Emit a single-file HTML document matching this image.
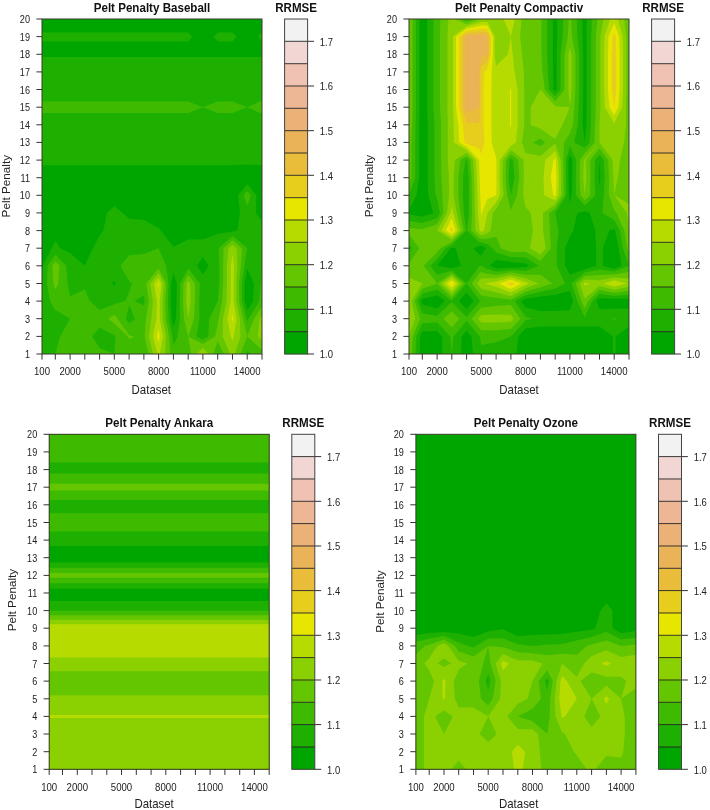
<!DOCTYPE html>
<html><head><meta charset="utf-8"><title>Pelt Penalty RRMSE</title>
<style>
html,body{margin:0;padding:0;background:#fff}
body{width:710px;height:810px;overflow:hidden}
svg{display:block}
text{font-family:"Liberation Sans",Arial,sans-serif;fill:#222}
.tk{font-size:10.4px}
.lb{font-size:12.4px}
.tt{font-size:12.4px;font-weight:bold;fill:#111}
.bx{fill:none;stroke:#3a3a2a;stroke-width:1}
.ax{fill:none;stroke:#333;stroke-width:1}
.kd{fill:none;stroke:#222;stroke-width:0.9}
.kb{fill:none;stroke:#444;stroke-width:1}
</style></head><body>
<svg width="710" height="810" viewBox="0 0 710 810">
<rect width="710" height="810" fill="#fff"/>
<g transform="translate(42,19)">
<rect x="0" y="0" width="220" height="335" fill="#00A600"/>
<path fill="#1DB000" fill-rule="evenodd" d="M0 335L13.3 335L28.1 335L42.8 335L57.6 335L72.3 335L87.1 335L101.9 335L116.6 335L131.4 335L146.2 335L160.9 335L175.7 335L190.5 335L205.2 335L220 335L220 317.4L220 299.7L220 282.1L220 264.5L220 246.8L220 229.2L220 211.6L220 202.8L214 193.9L214.4 176.3L205.2 165.3L196 176.3L198 193.9L195.4 211.6L190.5 212.5L175.7 215.1L160.9 220.4L146.2 220.4L131.4 228.1L118.8 211.6L116.6 209.1L101.9 201L87.1 199.8L80.8 193.9L72.3 186.9L65 193.9L61.3 211.6L57.6 216.6L50.9 229.2L42.8 246.8L42.8 246.8L42.8 246.8L28.1 234.1L18.2 229.2L13.3 221.4L9.5 229.2L0.9 246.8L0 255.7L0 264.5L0 282.1L0 299.7L0 317.4ZM72.3 266.7L69.4 264.5L72.3 262L73.8 264.5ZM131.4 308.6L129.6 299.7L128.7 282.1L129 264.5L131.4 253.5L134.8 264.5L134.6 282.1L133.9 299.7ZM160.9 255.7L155 246.8L160.9 238L166.8 246.8ZM205.2 291.4L202.7 282.1L202.5 264.5L205.2 249.8L211.9 264.5L211 282.1ZM0 141.1L0 146.3L13.3 146.3L28.1 146.3L42.8 146.3L57.6 146.3L72.3 146.3L87.1 146.3L101.9 146.3L116.6 146.3L131.4 146.3L146.2 146.3L160.9 146.3L175.7 146.3L190.5 146.3L205.2 145.5L220 146.3L220 141.1L220 123.4L220 105.8L220 88.2L220 70.5L220 52.9L220 37.9L205.2 37.9L190.5 37.9L175.7 37.9L160.9 37.9L146.2 37.9L131.4 37.9L116.6 37.9L101.9 37.9L87.1 37.9L72.3 37.9L57.6 37.9L42.8 37.9L28.1 37.9L13.3 37.9L0 37.9L0 52.9L0 70.5L0 88.2L0 105.8L0 123.4ZM0 17.6L0 22.4L13.3 22.4L28.1 22.4L42.8 22.4L57.6 22.4L72.3 22.4L87.1 22.4L101.9 22.4L116.6 22.4L131.4 22.4L146.2 22.4L150.2 17.6L146.2 13.6L131.4 13.6L116.6 13.6L101.9 13.6L87.1 13.6L72.3 13.6L57.6 13.6L42.8 13.6L28.1 13.6L13.3 13.6L0 13.6ZM171.7 17.6L175.7 22.4L190.5 22.4L194.5 17.6L190.5 13.6L175.7 13.6ZM216 17.6L220 22.4L220 17.6L220 13.6Z"/>
<path fill="#3EBB00" fill-rule="evenodd" d="M13.3 335L28.1 335L42.8 335L57.6 335L72.3 335L57.6 329.1L50.2 317.4L57.6 308.6L72.3 316.2L73.6 317.4L72.3 335L87.1 335L101.9 335L101.9 335L101.9 335L116.6 335L131.4 335L146.2 335L160.9 335L175.7 335L175.7 335L175.7 335L190.5 335L204.1 335L205.2 332.1L208.9 335L220 335L220 317.4L220 299.7L220 282.1L220 264.5L220 255.7L218.7 264.5L217.4 282.1L206.4 299.7L205.2 302.7L204.6 299.7L199.9 282.1L199.8 264.5L202.4 246.8L205.2 229.2L190.5 216.9L176.7 229.2L177.3 246.8L177.3 264.5L175.7 282.1L175.7 282.1L167.3 299.7L166.3 317.4L160.9 320.7L154.4 317.4L157.5 299.7L157.1 282.1L158 264.5L146.2 249.4L138.1 264.5L137.8 282.1L138 299.7L135.6 317.4L131.4 326.2L130.2 317.4L126.7 299.7L125.9 282.1L126.6 264.5L124 246.8L116.6 229.2L101.9 235.1L87.1 236.3L78.3 246.8L87.1 262L90.1 264.5L87.1 273.3L83.4 282.1L72.3 285.2L57.6 290.9L47.7 282.1L42.8 270.4L28.1 277.5L25.5 264.5L24.1 246.8L13.3 235.6L5.7 246.8L5 264.5L8 282.1L13.3 290.9L28.1 299.7L28.1 299.7L28.1 299.7L18.2 317.4ZM87.1 304.4L83.8 299.7L87.1 285.6L93 299.7ZM101.9 286.5L92 282.1L101.9 276.2L102.7 282.1ZM201.6 176.3L205.2 187.1L208.9 176.3L205.2 171.9ZM0 88.2L0 93.9L13.3 93.9L28.1 93.9L42.8 93.9L57.6 93.9L72.3 93.9L87.1 93.9L101.9 93.9L116.6 93.9L131.4 93.9L146.2 93.9L160.9 88.2L146.2 82.4L131.4 82.4L116.6 82.4L101.9 82.4L87.1 82.4L72.3 82.4L57.6 82.4L42.8 82.4L28.1 82.4L13.3 82.4L0 82.4ZM160.9 88.2L175.7 93.9L190.5 93.9L205.2 88.2L190.5 82.4L175.7 82.4ZM205.2 88.2L220 94.8L220 88.2L220 81.5Z"/>
<path fill="#3EBB00" d="M73.6 317.4L87.1 317.4L87.1 304.4L83.8 299.7L72.3 299.7L72.3 316.2ZM72.3 299.7L83.8 299.7L87.1 285.6L87.1 282.1L83.4 282.1L72.3 285.2ZM93 299.7L101.9 299.7L101.9 286.5L92 282.1L87.1 282.1L87.1 285.6ZM87.1 282.1L92 282.1L101.9 276.2L101.9 264.5L90.1 264.5L87.1 273.3Z"/>
<path fill="#63C600" fill-rule="evenodd" d="M85.9 317.4L87.1 319.9L92 317.4L87.1 316.2ZM106.5 335L116.6 335L128.2 335L127.1 317.4L123.7 299.7L123.2 282.1L124.3 264.5L116.6 249.6L104.2 264.5L106.8 282.1L104 299.7L102.7 317.4ZM149.1 335L160.9 335L171.4 335L160.9 324.9ZM173 317.4L175.7 322.4L181.9 335L190.5 335L198.4 335L205.2 317.4L201.2 299.7L197.2 282.1L197 264.5L198.9 246.8L200 229.2L190.5 221.3L181.6 229.2L181.1 246.8L181.1 264.5L180 282.1L176.6 299.7L175.7 305.6ZM205.2 317.4L220 331.1L220 317.4L220 299.7L220 287.4L212 299.7ZM66.4 299.7L72.3 304.4L75.6 299.7L72.3 295.6ZM142.1 299.7L146.2 317.4L151.9 299.7L152.9 282.1L153.1 264.5L146.2 255.7L141.5 264.5L141 282.1ZM11.3 264.5L13.3 270.6L16.2 264.5L17.4 246.8L13.3 242.6L10.4 246.8Z"/>
<path fill="#63C600" d="M149.1 335L160.9 335L160.9 324.9L146.2 317.4L146.2 317.4L146.2 317.4ZM160.9 335L171.4 335L175.7 322.4L175.7 317.4L173 317.4L160.9 324.9ZM85.9 317.4L87.1 317.4L87.1 316.2L75.6 299.7L72.3 299.7L72.3 304.4Z"/>
<path fill="#8BD000" fill-rule="evenodd" d="M111.1 335L116.6 335L123 335L124 317.4L120.8 299.7L120.5 282.1L121.9 264.5L116.6 254.3L108.1 264.5L110.9 282.1L109.3 299.7L106.8 317.4ZM154 335L160.9 335L167 335L160.9 329.1ZM188 335L190.5 335L192.7 335L198.5 317.4L197.9 299.7L194.4 282.1L194.3 264.5L195.4 246.8L194.7 229.2L190.5 225.7L186.5 229.2L185 246.8L185 264.5L184.4 282.1L180.9 299.7L180.6 317.4ZM215.8 317.4L220 321.3L220 317.4L220 299.7L220 296.2L217.7 299.7ZM144.2 282.1L146.2 299.7L148.7 282.1L148.1 264.5L146.2 262L144.8 264.5Z"/>
<path fill="#B6DB00" fill-rule="evenodd" d="M115.7 335L116.6 335L117.7 335L121 317.4L117.8 299.7L117.7 282.1L119.5 264.5L116.6 258.9L112 264.5L115 282.1L114.5 299.7L110.9 317.4ZM159 335L160.9 335L162.7 335L160.9 333.3ZM188.8 317.4L190.5 321.8L191.8 317.4L194.5 299.7L191.6 282.1L191.6 264.5L191.9 246.8L190.5 235.1L188.9 246.8L188.9 264.5L188.7 282.1L185.3 299.7Z"/>
<path fill="#E6E600" fill-rule="evenodd" d="M115 317.4L116.6 323.2L117.9 317.4L116.6 310.3ZM189.6 299.7L190.5 303.3L191.1 299.7L190.5 295.3ZM115.9 264.5L116.6 268.9L117.1 264.5L116.6 263.5Z"/>
<rect class="bx" x="0" y="0" width="220" height="335"/>
<path class="ax" d="M0 335v5.6M13.3 335v5.6M28.1 335v5.6M42.8 335v5.6M57.6 335v5.6M72.3 335v5.6M87.1 335v5.6M101.9 335v5.6M116.6 335v5.6M131.4 335v5.6M146.2 335v5.6M160.9 335v5.6M175.7 335v5.6M190.5 335v5.6M205.2 335v5.6M220 335v5.6M0 335h-5.6M0 317.4h-5.6M0 299.7h-5.6M0 282.1h-5.6M0 264.5h-5.6M0 246.8h-5.6M0 229.2h-5.6M0 211.6h-5.6M0 193.9h-5.6M0 176.3h-5.6M0 158.7h-5.6M0 141.1h-5.6M0 123.4h-5.6M0 105.8h-5.6M0 88.2h-5.6M0 70.5h-5.6M0 52.9h-5.6M0 35.3h-5.6M0 17.6h-5.6M0 0h-5.6"/>
<text class="tk" transform="translate(0,356.2) scale(0.925,1)" text-anchor="middle">100</text>
<text class="tk" transform="translate(28.1,356.2) scale(0.925,1)" text-anchor="middle">2000</text>
<text class="tk" transform="translate(72.3,356.2) scale(0.925,1)" text-anchor="middle">5000</text>
<text class="tk" transform="translate(116.6,356.2) scale(0.925,1)" text-anchor="middle">8000</text>
<text class="tk" transform="translate(160.9,356.2) scale(0.925,1)" text-anchor="middle">11000</text>
<text class="tk" transform="translate(205.2,356.2) scale(0.925,1)" text-anchor="middle">14000</text>
<text class="tk" transform="translate(-12,339) scale(0.875,1)" text-anchor="end">1</text>
<text class="tk" transform="translate(-12,321.4) scale(0.875,1)" text-anchor="end">2</text>
<text class="tk" transform="translate(-12,303.7) scale(0.875,1)" text-anchor="end">3</text>
<text class="tk" transform="translate(-12,286.1) scale(0.875,1)" text-anchor="end">4</text>
<text class="tk" transform="translate(-12,268.5) scale(0.875,1)" text-anchor="end">5</text>
<text class="tk" transform="translate(-12,250.8) scale(0.875,1)" text-anchor="end">6</text>
<text class="tk" transform="translate(-12,233.2) scale(0.875,1)" text-anchor="end">7</text>
<text class="tk" transform="translate(-12,215.6) scale(0.875,1)" text-anchor="end">8</text>
<text class="tk" transform="translate(-12,197.9) scale(0.875,1)" text-anchor="end">9</text>
<text class="tk" transform="translate(-12,180.3) scale(0.875,1)" text-anchor="end">10</text>
<text class="tk" transform="translate(-12,162.7) scale(0.875,1)" text-anchor="end">11</text>
<text class="tk" transform="translate(-12,145.1) scale(0.875,1)" text-anchor="end">12</text>
<text class="tk" transform="translate(-12,127.4) scale(0.875,1)" text-anchor="end">13</text>
<text class="tk" transform="translate(-12,109.8) scale(0.875,1)" text-anchor="end">14</text>
<text class="tk" transform="translate(-12,92.2) scale(0.875,1)" text-anchor="end">15</text>
<text class="tk" transform="translate(-12,74.5) scale(0.875,1)" text-anchor="end">16</text>
<text class="tk" transform="translate(-12,56.9) scale(0.875,1)" text-anchor="end">17</text>
<text class="tk" transform="translate(-12,39.3) scale(0.875,1)" text-anchor="end">18</text>
<text class="tk" transform="translate(-12,21.6) scale(0.875,1)" text-anchor="end">19</text>
<text class="tk" transform="translate(-12,4) scale(0.875,1)" text-anchor="end">20</text>
<text class="lb" transform="translate(109.3,374.8) scale(0.923,1)" text-anchor="middle">Dataset</text>
<text class="lb" transform="translate(-32,167.2) rotate(-90)" text-anchor="middle" style="font-size:11.7px">Pelt Penalty</text>
<text class="tt" transform="translate(110,-7) scale(0.935,1)" text-anchor="middle">Pelt Penalty Baseball</text>
<rect x="242.6" y="312.7" width="23.0" height="22.6" fill="#00A600"/>
<rect x="242.6" y="290.3" width="23.0" height="22.6" fill="#1DB000"/>
<rect x="242.6" y="268" width="23.0" height="22.6" fill="#3EBB00"/>
<rect x="242.6" y="245.7" width="23.0" height="22.6" fill="#63C600"/>
<rect x="242.6" y="223.3" width="23.0" height="22.6" fill="#8BD000"/>
<rect x="242.6" y="201" width="23.0" height="22.6" fill="#B6DB00"/>
<rect x="242.6" y="178.7" width="23.0" height="22.6" fill="#E6E600"/>
<rect x="242.6" y="156.3" width="23.0" height="22.6" fill="#E7CE1D"/>
<rect x="242.6" y="134" width="23.0" height="22.6" fill="#E9BD3A"/>
<rect x="242.6" y="111.7" width="23.0" height="22.6" fill="#EAB358"/>
<rect x="242.6" y="89.3" width="23.0" height="22.6" fill="#ECB176"/>
<rect x="242.6" y="67" width="23.0" height="22.6" fill="#EDB694"/>
<rect x="242.6" y="44.7" width="23.0" height="22.6" fill="#EFC2B3"/>
<rect x="242.6" y="22.3" width="23.0" height="22.6" fill="#F1D6D3"/>
<rect x="242.6" y="0" width="23.0" height="22.6" fill="#F2F2F2"/>
<path class="kd" d="M242.6 312.7h23.0M242.6 290.3h23.0M242.6 268h23.0M242.6 245.7h23.0M242.6 223.3h23.0M242.6 201h23.0M242.6 178.7h23.0M242.6 156.3h23.0M242.6 134h23.0M242.6 111.7h23.0M242.6 89.3h23.0M242.6 67h23.0M242.6 44.7h23.0M242.6 22.3h23.0"/>
<rect class="kb" x="242.6" y="0" width="23.0" height="335"/>
<text class="tk" transform="translate(277.8,339.3) scale(0.91,1)" text-anchor="start">1.0</text>
<text class="tk" transform="translate(277.8,294.6) scale(0.91,1)" text-anchor="start">1.1</text>
<text class="tk" transform="translate(277.8,250) scale(0.91,1)" text-anchor="start">1.2</text>
<text class="tk" transform="translate(277.8,205.3) scale(0.91,1)" text-anchor="start">1.3</text>
<text class="tk" transform="translate(277.8,160.6) scale(0.91,1)" text-anchor="start">1.4</text>
<text class="tk" transform="translate(277.8,116) scale(0.91,1)" text-anchor="start">1.5</text>
<text class="tk" transform="translate(277.8,71.3) scale(0.91,1)" text-anchor="start">1.6</text>
<text class="tk" transform="translate(277.8,26.6) scale(0.91,1)" text-anchor="start">1.7</text>
<path class="ax" d="M265.6 335h6.4M265.6 290.3h6.4M265.6 245.7h6.4M265.6 201h6.4M265.6 156.3h6.4M265.6 111.7h6.4M265.6 67h6.4M265.6 22.3h6.4"/>
<text class="tt" transform="translate(254.1,-7) scale(0.935,1)" text-anchor="middle">RRMSE</text>
</g>
<g transform="translate(409,19)">
<rect x="0" y="0" width="220" height="335" fill="#00A600"/>
<path fill="#1DB000" fill-rule="evenodd" d="M0 335L10.8 335L11.1 317.4L13.3 312.6L28.1 312.1L33 317.4L33.6 335L42.8 335L52 335L52.7 317.4L57.6 311.5L62.5 317.4L63.9 335L70.1 335L72.3 335L78.3 335L87.1 335L101.9 335L107.4 335L109.3 317.4L116.6 309.4L131.4 307.6L146.2 307.6L160.9 307.6L175.7 307.6L190.5 307.6L203.9 317.4L203.9 335L205.2 335L206.6 335L206.6 317.4L220 307.6L220 299.7L220 289.7L205.2 289.7L190.5 290.3L187.5 282.1L190.5 279.2L205.2 279.7L220 279.7L220 264.5L220 246.8L220 229.2L220 211.6L220 193.9L220 176.3L220 158.7L220 141.1L220 123.4L220 105.8L220 88.2L220 70.5L220 52.9L220 35.3L220 17.6L220 0L205.2 0L190.5 0L177.8 0L177.6 17.6L177.6 35.3L177.6 52.9L177.6 70.5L177.6 88.2L177.4 105.8L175.7 123.4L175.7 123.4L175.7 123.4L173.7 105.8L174 88.2L174.2 70.5L174.2 52.9L174.2 35.3L173.6 17.6L173.4 0L160.9 0L148.4 0L148.3 17.6L147.7 35.3L147.7 52.9L147.7 70.5L146.2 72.5L144.4 70.5L144.1 52.9L143.9 35.3L143.9 17.6L143.9 0L131.4 0L116.6 0L101.9 0L87.1 0L78.3 0L72.3 0L70.1 0L57.6 0L42.8 0L28.1 0L18.2 0L18.2 17.6L18.2 35.3L18.2 52.9L18.2 70.5L18.2 88.2L18.7 105.8L18.7 123.4L18.7 141.1L18.7 158.7L19.2 176.3L24.4 193.9L13.3 197.7L0 195.3L0 211.6L0 229.2L0 246.8L0 264.5L0 282.1L0 299.7L0 317.4ZM13.3 285.6L12 282.1L13.3 280L28.1 276.2L35.8 282.1L28.1 289.5ZM57.6 290.1L49.8 282.1L57.6 273.3L64.6 282.1ZM70.1 235.4L64.4 229.2L70.1 227.2L72.3 226.8L76.8 229.2L72.3 236.5ZM87.1 249.5L80.6 246.8L87.1 241L101.9 242.9L116.6 244.5L120.3 246.8L116.6 248.3L101.9 248.7ZM116.6 288.6L112.2 282.1L116.6 279.7L131.4 277.5L146.2 275.8L160.9 272L164.2 282.1L160.9 290.9L146.2 291.9L131.4 291.9ZM190.5 167.5L189.6 158.7L190.5 141.1L190.5 141.1L190.5 141.1L191.3 158.7ZM205.2 249.7L193.9 246.8L193.9 229.2L200.3 211.6L205.2 209.8L206.2 211.6L209.6 229.2L212.6 246.8ZM28.1 246.8L28.1 246.8L28.1 246.8L41.8 229.2L42.8 228.7L46.5 229.2L52 246.8L42.8 249.3ZM160.9 255.7L156 246.8L156 229.2L160.9 217.5L164.3 211.6L168.3 193.9L175.7 191.9L180.6 193.9L186.3 211.6L187.1 229.2L187.1 246.8L175.7 250.2ZM160.9 185.1L159.9 176.3L159.5 158.7L159.4 141.1L160.9 135.8L163.3 141.1L163.2 158.7L162.7 176.3ZM0 176.3L0 191L7.4 176.3L10.2 158.7L10.2 141.1L10.2 123.4L10.3 105.8L10.5 88.2L10.5 70.5L10.5 52.9L10.5 35.3L10.5 17.6L10.5 0L0 0L0 17.6L0 35.3L0 52.9L0 70.5L0 88.2L0 105.8L0 123.4L0 141.1L0 158.7Z"/>
<path fill="#1DB000" d="M160.9 193.9L168.3 193.9L175.7 191.9L175.7 176.3L162.7 176.3L160.9 185.1Z"/>
<path fill="#3EBB00" fill-rule="evenodd" d="M0 335L6.6 335L7.4 317.4L13.3 304.5L28.1 303.3L41.2 317.4L42.8 335L44.5 317.4L57.6 301.7L70.1 316.8L70.7 317.4L72.3 326.2L78.3 324.7L87.1 323.2L101.9 317.4L101.9 317.4L116.6 301.3L124 299.7L116.6 297.9L105.7 282.1L116.6 276.2L131.4 272.8L146.2 269.5L156 264.5L147.8 246.8L147.8 229.2L149.5 211.6L146.2 193.9L146.2 193.9L146.2 193.9L157.2 176.3L157.1 158.7L156.9 141.1L160.9 126.9L165.2 123.4L168.8 105.8L169.6 88.2L170.3 70.5L170.3 52.9L170.3 35.3L168.3 17.6L167.8 0L160.9 0L154.1 0L153.6 17.6L151.6 35.3L151.6 52.9L151.6 70.5L146.2 77.4L140.1 70.5L138.8 52.9L138.2 35.3L138.2 17.6L138.2 0L131.4 0L116.6 0L101.9 0L87.1 0L78.3 0L72.3 0L70.1 0L60 0L57.6 0.9L55.5 0L42.8 0L28.1 0L24.4 0L24.4 17.6L24.4 35.3L24.4 52.9L24.4 70.5L24.4 88.2L25.4 105.8L25.4 123.4L25.4 141.1L25.4 158.7L26.6 176.3L28.1 179.8L30.9 193.9L28.1 199L13.3 204L0 202.1L0 211.6L0 225.3L3 229.2L0 233.6L0 246.8L0 264.5L0 282.1L0 299.7L0 317.4ZM13.3 294.4L8.9 282.1L13.3 274.8L28.1 270.4L42.8 281.8L57.6 264.5L42.8 251.7L28.1 255.7L21.3 246.8L28.1 240.1L36.5 229.2L42.8 226L57.3 211.6L54.8 193.9L53.9 176.3L53.9 158.7L56.5 141.1L57.6 140.4L58.2 141.1L59.8 158.7L59.9 176.3L60 193.9L58 211.6L70.1 223.2L72.3 223.3L78.3 225L83.3 229.2L87.1 233.6L101.9 238L116.6 238.6L129.6 246.8L116.6 252L101.9 251.1L87.1 252.7L78.3 250.1L72.3 246.8L70.1 247.3L57.6 264.5L70.1 280.6L71.6 282.1L70.1 283.7L57.6 298.1L42.8 283L28.1 296.8ZM101.9 176.3L101.9 176.3L99.5 158.7L100.6 141.1L101.9 139.4L104 141.1L105.6 158.7L101.9 176.3ZM201.8 299.7L205.2 300.8L208.6 299.7L205.2 299.2ZM168.3 282.1L175.7 298L183.3 282.1L190.5 275.1L205.2 276.7L220 275.7L220 264.5L220 246.8L205.2 252.6L190.5 250.6L175.7 253.6L162.6 264.5ZM213.9 229.2L220 246.8L220 229.2L220 211.6L220 193.9L220 176.3L220 158.7L220 141.1L220 123.4L220 105.8L220 88.2L220 70.5L220 52.9L220 35.3L220 17.6L220 0L205.2 0L190.5 0L183.1 0L182.2 17.6L182.2 35.3L182.2 52.9L182.2 70.5L182.2 88.2L181.8 105.8L180.6 123.4L175.7 128.9L167.2 141.1L166.8 158.7L167 176.3L175.7 186.7L186.3 176.3L185.5 158.7L185.9 141.1L190.5 135.2L194.8 141.1L195.7 158.7L194.7 176.3L193.4 193.9L205.2 201L210.8 211.6ZM0 158.7L0 176.3L6.3 158.7L6.3 141.1L6.3 123.4L6.6 105.8L7 88.2L7 70.5L7 52.9L7 35.3L7 17.6L7 0L0 0L0 17.6L0 35.3L0 52.9L0 70.5L0 88.2L0 105.8L0 123.4L0 141.1Z"/>
<path fill="#3EBB00" d="M167.2 141.1L175.7 141.1L175.7 128.9L165.2 123.4L160.9 123.4L160.9 126.9ZM175.7 141.1L185.9 141.1L190.5 135.2L190.5 123.4L180.6 123.4L175.7 128.9Z"/>
<path fill="#63C600" fill-rule="evenodd" d="M0 335L2.5 335L3.7 317.4L11.2 299.7L5.7 282.1L13.3 269.7L28.1 264.5L14.6 246.8L28.1 233.3L31.2 229.2L42.8 223.3L54.6 211.6L51.3 193.9L49.3 176.3L49.3 158.7L51.3 141.1L57.6 137.3L61.1 141.1L62.5 158.7L62.7 176.3L63 193.9L62.2 211.6L70.1 219.1L72.3 219.9L78.3 219.7L87.1 217.5L92 229.2L101.9 233.1L116.6 232.7L131.4 241.8L142 229.2L140.8 211.6L140 193.9L146.2 189.7L154.6 176.3L154.7 158.7L154.3 141.1L155 123.4L160.9 114.6L163.9 105.8L165.3 88.2L166.4 70.5L166.4 52.9L166.4 35.3L163 17.6L162.1 0L160.9 0L159.8 0L158.8 17.6L155.5 35.3L155.5 52.9L155.5 70.5L146.2 82.3L135.8 70.5L133.5 52.9L132.5 35.3L132.5 17.6L132.5 0L131.4 0L116.6 0L101.9 0L87.1 0L78.3 0L72.3 0L70.1 0L66.2 0L57.6 3.1L50.2 0L42.8 0L31.3 0L31 17.6L31 35.3L31 52.9L31 70.5L31 88.2L32.1 105.8L32.1 123.4L32.1 141.1L32.5 158.7L33.4 176.3L34.4 193.9L28.1 205.3L13.3 210.3L0 208.9L0 211.6L0 215.5L10.3 229.2L0 244.6L0 246.8L0 264.5L0 282.1L0 299.7L0 317.4ZM101.9 191L98.2 176.3L96.5 158.7L97.3 141.1L101.9 135.2L109.3 141.1L110.2 158.7L108 176.3ZM131.4 127.3L124 123.4L131.4 119.5L136 123.4ZM34.4 299.7L42.8 308.6L50.2 299.7L42.8 292.3ZM62.7 299.7L70.1 308.9L72.3 311.2L78.3 311.2L87.1 311.2L101.9 310L111.3 299.7L101.9 286L87.1 287.1L78.3 288.1L72.3 288.7L70.1 291.1ZM172.4 282.1L175.7 289.2L179.1 282.1L190.5 271L205.2 273.7L220 271.7L220 264.5L220 253.1L205.2 255.5L190.5 255.9L175.7 257L166.7 264.5ZM28.1 264.5L42.8 278.4L54.7 264.5L42.8 254.2ZM62.9 264.5L70.1 273.9L72.3 276.2L78.3 277.4L87.1 278.8L101.9 280.7L116.6 272.8L131.4 268.2L143.2 264.5L131.4 255.7L116.6 255.7L101.9 253.5L87.1 256L78.3 254.7L72.3 253.1L70.1 254.5ZM218.3 229.2L220 234.2L220 229.2L220 211.6L220 193.9L220 176.3L220 158.7L220 141.1L220 123.4L220 105.8L220 88.2L220 70.5L220 52.9L220 35.3L220 17.6L220 0L205.2 0L190.5 0L188.4 0L186.8 17.6L186.8 35.3L186.8 52.9L186.8 70.5L186.8 88.2L186.1 105.8L185.5 123.4L190.5 129.3L199.2 141.1L200 158.7L200 176.3L205.2 191L207.3 193.9L215.4 211.6ZM171.4 176.3L175.7 181.5L181 176.3L181.4 158.7L181.2 141.1L175.7 134.4L171 141.1L170.5 158.7ZM0 158.7L0 165.3L2.3 158.7L2.3 141.1L2.3 123.4L3 105.8L3.5 88.2L3.5 70.5L3.5 52.9L3.5 35.3L3.5 17.6L3.5 0L0 0L0 17.6L0 35.3L0 52.9L0 70.5L0 88.2L0 105.8L0 123.4L0 141.1Z"/>
<path fill="#63C600" d="M175.7 141.1L181.2 141.1L190.5 129.3L190.5 123.4L185.5 123.4L175.7 134.4Z"/>
<path fill="#8BD000" fill-rule="evenodd" d="M0 299.7L0 317.4L6.1 299.7L2.5 282.1L13.3 264.5L0 258.6L0 264.5L0 282.1ZM69.1 299.7L70.1 301L72.3 303.6L78.3 303.6L87.1 303.6L101.9 302.7L104.6 299.7L101.9 295.8L87.1 295.5L78.3 295.9L72.3 296.1L70.1 298.6ZM31.6 264.5L42.8 275.1L51.9 264.5L42.8 256.6ZM68.1 264.5L70.1 267.1L72.3 269.7L78.3 271.3L87.1 273.3L101.9 277.2L116.6 269.3L129.6 264.5L116.6 259.3L101.9 255.9L87.1 259.2L78.3 259.3L72.3 259.4L70.1 261.7ZM170.8 264.5L175.7 279.6L190.5 266.9L205.2 270.7L220 267.7L220 264.5L220 259.4L205.2 258.4L190.5 261.3L175.7 260.4ZM120.9 229.2L131.4 235.5L136.7 229.2L134.1 211.6L133.9 193.9L146.2 185.6L152 176.3L152.4 158.7L151.8 141.1L146.2 124.2L131.4 137.1L116.6 134L114.5 141.1L114.8 158.7L114.2 176.3L116.6 188.1L121.6 193.9L124 211.6ZM28.1 211.6L42.8 220.7L51.9 211.6L47.7 193.9L44.7 176.3L44.7 158.7L46 141.1L57.6 134.1L64.1 141.1L65.2 158.7L65.5 176.3L66 193.9L66.4 211.6L70.1 215.1L72.3 216.4L78.3 214.4L81.7 211.6L83.8 193.9L87.1 189.9L94.6 176.3L93.4 158.7L94 141.1L101.9 131L113 123.4L115.3 105.8L115.3 88.2L115.3 70.5L114.8 52.9L113 35.3L111.1 17.6L112.6 0L101.9 0L87.1 0L78.3 0L72.3 0L72.3 0L70.1 1.1L57.6 5.4L44.9 0L42.8 0L39.5 0L38.4 17.6L38.4 35.3L38.4 52.9L38.4 70.5L38.4 88.2L38.8 105.8L38.8 123.4L38.8 141.1L39.9 158.7L40.1 176.3L37.9 193.9ZM217.9 193.9L220 211.6L220 193.9L220 185.1ZM174.2 158.7L175.7 176.3L177.3 158.7L176.6 141.1L175.7 140L174.9 141.1ZM204.4 158.7L205.2 176.3L208.9 158.7L211.1 141.1L215.1 123.4L217 105.8L216.9 88.2L217.3 70.5L217.3 52.9L217.3 35.3L217.2 17.6L215.1 0L205.2 0L194.5 0L191.3 17.6L191.2 35.3L191.2 52.9L191.2 70.5L191.4 88.2L190.5 105.8L190.5 123.4L203.5 141.1ZM121.6 105.8L131.4 109.7L146.2 119.9L153.6 105.8L160.9 88.2L146.2 87.2L131.4 70.5L121.6 88.2ZM159.4 70.5L160.9 88.2L162.5 70.5L162.5 52.9L162.5 35.3L160.9 28.2L159.4 35.3L159.4 52.9Z"/>
<path fill="#8BD000" d="M217.9 193.9L220 193.9L220 185.1L205.2 176.3L205.2 176.3L205.2 176.3ZM114.5 141.1L116.6 141.1L116.6 134L113 123.4L101.9 123.4L101.9 131ZM175.7 141.1L176.6 141.1L190.5 123.4L190.5 123.4L190.5 123.4L175.7 140Z"/>
<path fill="#B6DB00" fill-rule="evenodd" d="M0 299.7L0 302.7L1 299.7L0 290.9ZM35.1 264.5L42.8 271.8L49.1 264.5L42.8 259.1ZM76 264.5L78.3 265.2L87.1 267.8L101.9 273.6L116.6 265.9L120.3 264.5L116.6 263L101.9 258.3L87.1 262.5L78.3 263.9ZM174.9 264.5L175.7 267L180.6 264.5L175.7 263.8ZM194.4 264.5L205.2 267.8L217.7 264.5L205.2 261.3ZM32.4 211.6L42.8 218L49.3 211.6L44.2 193.9L42.8 186.9L41.4 193.9ZM70.7 211.6L72.3 213L75 211.6L78.3 194.7L78.4 193.9L87.1 183.3L90.9 176.3L90.4 158.7L90.7 141.1L101.9 126.8L106.8 123.4L108.7 105.8L108.7 88.2L108.7 70.5L105.6 52.9L103.7 35.3L101.9 17.6L98.9 35.3L87.1 47L85.6 35.3L85.7 17.6L78.3 3L72.3 3.1L70.1 4L57.6 7.6L44 17.6L44 35.3L44 52.9L44 70.5L44 88.2L44.7 105.8L44.9 123.4L57.6 131L67 141.1L68 158.7L68.4 176.3L69 193.9L70.1 207.1ZM135.1 176.3L146.2 181.4L149.3 176.3L150 158.7L149.2 141.1L146.2 131.9L136.3 141.1L134.4 158.7ZM195.9 88.2L205.2 104.2L213.1 88.2L214 70.5L214 52.9L214 35.3L213.7 17.6L208.9 0L205.2 0L201.2 0L195.4 17.6L195.1 35.3L195.1 52.9L195.1 70.5ZM94.5 0L101.9 17.6L105.9 0L101.9 0Z"/>
<path fill="#E6E600" fill-rule="evenodd" d="M38.6 264.5L42.8 268.5L46.2 264.5L42.8 261.5ZM90.1 264.5L101.9 270.1L112.6 264.5L101.9 260.7ZM204.3 264.5L205.2 264.8L206.4 264.5L205.2 264.2ZM36.7 211.6L42.8 215.3L46.6 211.6L42.8 199.2ZM72 193.9L72.3 196.5L72.9 193.9L78.3 180L87.1 176.6L87.3 176.3L87.4 158.7L87.4 141.1L87.1 138.5L82.7 123.4L82.5 105.8L82.5 88.2L82.5 70.5L82.7 52.9L83.8 35.3L83.9 17.6L78.3 6.6L72.3 6.3L70.1 7L57.6 9.8L47 17.6L47 35.3L47 52.9L47 70.5L47 88.2L49.3 105.8L50.2 123.4L57.6 127.8L70 141.1L70.1 144.4L70.7 158.7L71.2 176.3ZM144.3 176.3L146.2 177.2L146.7 176.3L147.6 158.7L146.7 141.1L146.2 139.5L144.5 141.1L141.7 158.7ZM101 105.8L101.9 108.7L102.1 105.8L102.1 88.2L102.1 70.5L101.9 69.4L101 70.5L101 88.2ZM200.5 88.2L205.2 96.3L209.2 88.2L210.6 70.5L210.6 52.9L210.6 35.3L210.2 17.6L205.2 3.9L199.5 17.6L199 35.3L199 52.9L199 70.5Z"/>
<path fill="#E7CE1D" fill-rule="evenodd" d="M42.1 264.5L42.8 265.1L43.4 264.5L42.8 264ZM97.4 264.5L101.9 266.6L105.9 264.5L101.9 263ZM41.1 211.6L42.8 212.6L43.9 211.6L42.8 208.1ZM55.5 123.4L57.6 124.7L70.1 129.5L72.3 135.2L75.3 123.4L74.7 105.8L74.7 88.2L74.7 70.5L75.3 52.9L78.3 50L81.9 35.3L82.1 17.6L78.3 10.1L72.3 9.4L70.1 9.9L57.6 12.1L50.1 17.6L50.1 35.3L50.1 52.9L50.1 70.5L50.1 88.2L53.9 105.8ZM205.1 88.2L205.2 88.5L205.4 88.2L207.2 70.5L207.2 52.9L207.2 35.3L206.6 17.6L205.2 13.7L203.6 17.6L202.9 35.3L202.9 52.9L202.9 70.5Z"/>
<path fill="#E9BD3A" fill-rule="evenodd" d="M53.1 88.2L57.6 103.7L70.1 104.2L71.4 88.2L71.5 70.5L71.5 52.9L72.3 47.3L78.3 42.6L80.1 35.3L80.2 17.6L78.3 13.7L72.3 12.6L70.1 12.9L57.6 14.3L53.1 17.6L53.1 35.3L53.1 52.9L53.1 70.5Z"/>
<path fill="#EAB358" fill-rule="evenodd" d="M56.1 88.2L57.6 93.3L70.1 88.2L70.1 88.2L70.2 70.5L70.2 52.9L72.3 38L78.3 35.3L78.3 35.3L78.4 17.6L78.3 17.3L72.3 15.7L70.1 15.9L57.6 16.5L56.1 17.6L56.1 35.3L56.1 52.9L56.1 70.5Z"/>
<rect class="bx" x="0" y="0" width="220" height="335"/>
<path class="ax" d="M0 335v5.6M13.3 335v5.6M28.1 335v5.6M42.8 335v5.6M57.6 335v5.6M72.3 335v5.6M87.1 335v5.6M101.9 335v5.6M116.6 335v5.6M131.4 335v5.6M146.2 335v5.6M160.9 335v5.6M175.7 335v5.6M190.5 335v5.6M205.2 335v5.6M220 335v5.6M0 335h-5.6M0 317.4h-5.6M0 299.7h-5.6M0 282.1h-5.6M0 264.5h-5.6M0 246.8h-5.6M0 229.2h-5.6M0 211.6h-5.6M0 193.9h-5.6M0 176.3h-5.6M0 158.7h-5.6M0 141.1h-5.6M0 123.4h-5.6M0 105.8h-5.6M0 88.2h-5.6M0 70.5h-5.6M0 52.9h-5.6M0 35.3h-5.6M0 17.6h-5.6M0 0h-5.6"/>
<text class="tk" transform="translate(0,356.2) scale(0.925,1)" text-anchor="middle">100</text>
<text class="tk" transform="translate(28.1,356.2) scale(0.925,1)" text-anchor="middle">2000</text>
<text class="tk" transform="translate(72.3,356.2) scale(0.925,1)" text-anchor="middle">5000</text>
<text class="tk" transform="translate(116.6,356.2) scale(0.925,1)" text-anchor="middle">8000</text>
<text class="tk" transform="translate(160.9,356.2) scale(0.925,1)" text-anchor="middle">11000</text>
<text class="tk" transform="translate(205.2,356.2) scale(0.925,1)" text-anchor="middle">14000</text>
<text class="tk" transform="translate(-12,339) scale(0.875,1)" text-anchor="end">1</text>
<text class="tk" transform="translate(-12,321.4) scale(0.875,1)" text-anchor="end">2</text>
<text class="tk" transform="translate(-12,303.7) scale(0.875,1)" text-anchor="end">3</text>
<text class="tk" transform="translate(-12,286.1) scale(0.875,1)" text-anchor="end">4</text>
<text class="tk" transform="translate(-12,268.5) scale(0.875,1)" text-anchor="end">5</text>
<text class="tk" transform="translate(-12,250.8) scale(0.875,1)" text-anchor="end">6</text>
<text class="tk" transform="translate(-12,233.2) scale(0.875,1)" text-anchor="end">7</text>
<text class="tk" transform="translate(-12,215.6) scale(0.875,1)" text-anchor="end">8</text>
<text class="tk" transform="translate(-12,197.9) scale(0.875,1)" text-anchor="end">9</text>
<text class="tk" transform="translate(-12,180.3) scale(0.875,1)" text-anchor="end">10</text>
<text class="tk" transform="translate(-12,162.7) scale(0.875,1)" text-anchor="end">11</text>
<text class="tk" transform="translate(-12,145.1) scale(0.875,1)" text-anchor="end">12</text>
<text class="tk" transform="translate(-12,127.4) scale(0.875,1)" text-anchor="end">13</text>
<text class="tk" transform="translate(-12,109.8) scale(0.875,1)" text-anchor="end">14</text>
<text class="tk" transform="translate(-12,92.2) scale(0.875,1)" text-anchor="end">15</text>
<text class="tk" transform="translate(-12,74.5) scale(0.875,1)" text-anchor="end">16</text>
<text class="tk" transform="translate(-12,56.9) scale(0.875,1)" text-anchor="end">17</text>
<text class="tk" transform="translate(-12,39.3) scale(0.875,1)" text-anchor="end">18</text>
<text class="tk" transform="translate(-12,21.6) scale(0.875,1)" text-anchor="end">19</text>
<text class="tk" transform="translate(-12,4) scale(0.875,1)" text-anchor="end">20</text>
<text class="lb" transform="translate(110,374.8) scale(0.923,1)" text-anchor="middle">Dataset</text>
<text class="lb" transform="translate(-36.3,167) rotate(-90)" text-anchor="middle" style="font-size:11.7px">Pelt Penalty</text>
<text class="tt" transform="translate(110,-7) scale(0.935,1)" text-anchor="middle">Pelt Penalty Compactiv</text>
<rect x="242.6" y="312.7" width="23.0" height="22.6" fill="#00A600"/>
<rect x="242.6" y="290.3" width="23.0" height="22.6" fill="#1DB000"/>
<rect x="242.6" y="268" width="23.0" height="22.6" fill="#3EBB00"/>
<rect x="242.6" y="245.7" width="23.0" height="22.6" fill="#63C600"/>
<rect x="242.6" y="223.3" width="23.0" height="22.6" fill="#8BD000"/>
<rect x="242.6" y="201" width="23.0" height="22.6" fill="#B6DB00"/>
<rect x="242.6" y="178.7" width="23.0" height="22.6" fill="#E6E600"/>
<rect x="242.6" y="156.3" width="23.0" height="22.6" fill="#E7CE1D"/>
<rect x="242.6" y="134" width="23.0" height="22.6" fill="#E9BD3A"/>
<rect x="242.6" y="111.7" width="23.0" height="22.6" fill="#EAB358"/>
<rect x="242.6" y="89.3" width="23.0" height="22.6" fill="#ECB176"/>
<rect x="242.6" y="67" width="23.0" height="22.6" fill="#EDB694"/>
<rect x="242.6" y="44.7" width="23.0" height="22.6" fill="#EFC2B3"/>
<rect x="242.6" y="22.3" width="23.0" height="22.6" fill="#F1D6D3"/>
<rect x="242.6" y="0" width="23.0" height="22.6" fill="#F2F2F2"/>
<path class="kd" d="M242.6 312.7h23.0M242.6 290.3h23.0M242.6 268h23.0M242.6 245.7h23.0M242.6 223.3h23.0M242.6 201h23.0M242.6 178.7h23.0M242.6 156.3h23.0M242.6 134h23.0M242.6 111.7h23.0M242.6 89.3h23.0M242.6 67h23.0M242.6 44.7h23.0M242.6 22.3h23.0"/>
<rect class="kb" x="242.6" y="0" width="23.0" height="335"/>
<text class="tk" transform="translate(277.8,339.3) scale(0.91,1)" text-anchor="start">1.0</text>
<text class="tk" transform="translate(277.8,294.6) scale(0.91,1)" text-anchor="start">1.1</text>
<text class="tk" transform="translate(277.8,250) scale(0.91,1)" text-anchor="start">1.2</text>
<text class="tk" transform="translate(277.8,205.3) scale(0.91,1)" text-anchor="start">1.3</text>
<text class="tk" transform="translate(277.8,160.6) scale(0.91,1)" text-anchor="start">1.4</text>
<text class="tk" transform="translate(277.8,116) scale(0.91,1)" text-anchor="start">1.5</text>
<text class="tk" transform="translate(277.8,71.3) scale(0.91,1)" text-anchor="start">1.6</text>
<text class="tk" transform="translate(277.8,26.6) scale(0.91,1)" text-anchor="start">1.7</text>
<path class="ax" d="M265.6 335h6.4M265.6 290.3h6.4M265.6 245.7h6.4M265.6 201h6.4M265.6 156.3h6.4M265.6 111.7h6.4M265.6 67h6.4M265.6 22.3h6.4"/>
<text class="tt" transform="translate(254.1,-7) scale(0.935,1)" text-anchor="middle">RRMSE</text>
</g>
<g transform="translate(49.2,434.3)">
<rect x="0" y="0" width="220" height="335" fill="#00A600"/>
<path fill="#1DB000" fill-rule="evenodd" d="M0 335L13.3 335L28.1 335L42.8 335L57.6 335L72.3 335L87.1 335L101.9 335L116.6 335L131.4 335L146.2 335L160.9 335L175.7 335L190.5 335L205.2 335L220 335L220 317.4L220 299.7L220 282.1L220 264.5L220 246.8L220 229.2L220 211.6L220 193.9L220 176.3L220 166.6L205.2 166.6L190.5 166.6L175.7 166.6L160.9 166.6L146.2 166.6L131.4 166.6L116.6 166.6L101.9 166.6L87.1 166.6L72.3 166.6L57.6 166.6L42.8 166.6L28.1 166.6L13.3 166.6L0 166.6L0 176.3L0 193.9L0 211.6L0 229.2L0 246.8L0 264.5L0 282.1L0 299.7L0 317.4ZM0 141.1L0 154.4L13.3 154.4L28.1 154.4L42.8 154.4L57.6 154.4L72.3 154.4L87.1 154.4L101.9 154.4L116.6 154.4L131.4 154.4L146.2 154.4L160.9 154.4L175.7 154.4L190.5 154.4L205.2 154.4L220 154.4L220 141.1L220 128.3L205.2 128.3L190.5 128.3L175.7 128.3L160.9 128.3L146.2 128.3L131.4 128.3L116.6 128.3L101.9 128.3L87.1 128.3L72.3 128.3L57.6 128.3L42.8 128.3L28.1 128.3L13.3 128.3L0 128.3ZM0 105.8L0 111.7L13.3 111.7L28.1 111.7L42.8 111.7L57.6 111.7L72.3 111.7L87.1 111.7L101.9 111.7L116.6 111.7L131.4 111.7L146.2 111.7L160.9 111.7L175.7 111.7L190.5 111.7L205.2 111.7L220 111.7L220 105.8L220 88.2L220 70.5L220 52.9L220 35.3L220 17.6L220 0L205.2 0L190.5 0L175.7 0L160.9 0L146.2 0L131.4 0L116.6 0L101.9 0L87.1 0L72.3 0L57.6 0L42.8 0L28.1 0L13.3 0L0 0L0 17.6L0 35.3L0 52.9L0 70.5L0 88.2Z"/>
<path fill="#3EBB00" fill-rule="evenodd" d="M0 335L13.3 335L28.1 335L42.8 335L57.6 335L72.3 335L87.1 335L101.9 335L116.6 335L131.4 335L146.2 335L160.9 335L175.7 335L190.5 335L205.2 335L220 335L220 317.4L220 299.7L220 282.1L220 264.5L220 246.8L220 229.2L220 211.6L220 193.9L220 176.4L205.2 176.4L190.5 176.4L175.7 176.4L160.9 176.4L146.2 176.4L131.4 176.4L116.6 176.4L101.9 176.4L87.1 176.4L72.3 176.4L57.6 176.4L42.8 176.4L28.1 176.4L13.3 176.4L0 176.4L0 193.9L0 211.6L0 229.2L0 246.8L0 264.5L0 282.1L0 299.7L0 317.4ZM0 141.1L0 148.9L13.3 148.9L28.1 148.9L42.8 148.9L57.6 148.9L72.3 148.9L87.1 148.9L101.9 148.9L116.6 148.9L131.4 148.9L146.2 148.9L160.9 148.9L175.7 148.9L190.5 148.9L205.2 148.9L220 148.9L220 141.1L220 133.5L205.2 133.5L190.5 133.5L175.7 133.5L160.9 133.5L146.2 133.5L131.4 133.5L116.6 133.5L101.9 133.5L87.1 133.5L72.3 133.5L57.6 133.5L42.8 133.5L28.1 133.5L13.3 133.5L0 133.5ZM0 88.2L0 97.3L13.3 97.3L28.1 97.3L42.8 97.3L57.6 97.3L72.3 97.3L87.1 97.3L101.9 97.3L116.6 97.3L131.4 97.3L146.2 97.3L160.9 97.3L175.7 97.3L190.5 97.3L205.2 97.3L220 97.3L220 88.2L220 79L205.2 79L190.5 79L175.7 79L160.9 79L146.2 79L131.4 79L116.6 79L101.9 79L87.1 79L72.3 79L57.6 79L42.8 79L28.1 79L13.3 79L0 79ZM0 52.9L0 65.6L13.3 65.6L28.1 65.6L42.8 65.6L57.6 65.6L72.3 65.6L87.1 65.6L101.9 65.6L116.6 65.6L131.4 65.6L146.2 65.6L160.9 65.6L175.7 65.6L190.5 65.6L205.2 65.6L220 65.6L220 52.9L220 39.3L205.2 39.3L190.5 39.3L175.7 39.3L160.9 39.3L146.2 39.3L131.4 39.3L116.6 39.3L101.9 39.3L87.1 39.3L72.3 39.3L57.6 39.3L42.8 39.3L28.1 39.3L13.3 39.3L0 39.3ZM0 17.6L0 28.2L13.3 28.2L28.1 28.2L42.8 28.2L57.6 28.2L72.3 28.2L87.1 28.2L101.9 28.2L116.6 28.2L131.4 28.2L146.2 28.2L160.9 28.2L175.7 28.2L190.5 28.2L205.2 28.2L220 28.2L220 17.6L220 0L205.2 0L190.5 0L175.7 0L160.9 0L146.2 0L131.4 0L116.6 0L101.9 0L87.1 0L72.3 0L57.6 0L42.8 0L28.1 0L13.3 0L0 0Z"/>
<path fill="#63C600" fill-rule="evenodd" d="M0 335L13.3 335L28.1 335L42.8 335L57.6 335L72.3 335L87.1 335L101.9 335L116.6 335L131.4 335L146.2 335L160.9 335L175.7 335L190.5 335L205.2 335L220 335L220 317.4L220 299.7L220 282.1L220 264.5L220 246.8L220 229.2L220 211.6L220 193.9L220 180.9L205.2 180.9L190.5 180.9L175.7 180.9L160.9 180.9L146.2 180.9L131.4 180.9L116.6 180.9L101.9 180.9L87.1 180.9L72.3 180.9L57.6 180.9L42.8 180.9L28.1 180.9L13.3 180.9L0 180.9L0 193.9L0 211.6L0 229.2L0 246.8L0 264.5L0 282.1L0 299.7L0 317.4ZM0 141.1L0 143.5L13.3 143.5L28.1 143.5L42.8 143.5L57.6 143.5L72.3 143.5L87.1 143.5L101.9 143.5L116.6 143.5L131.4 143.5L146.2 143.5L160.9 143.5L175.7 143.5L190.5 143.5L205.2 143.5L220 143.5L220 141.1L220 138.7L205.2 138.7L190.5 138.7L175.7 138.7L160.9 138.7L146.2 138.7L131.4 138.7L116.6 138.7L101.9 138.7L87.1 138.7L72.3 138.7L57.6 138.7L42.8 138.7L28.1 138.7L13.3 138.7L0 138.7ZM0 52.9L0 56.1L13.3 56.1L28.1 56.1L42.8 56.1L57.6 56.1L72.3 56.1L87.1 56.1L101.9 56.1L116.6 56.1L131.4 56.1L146.2 56.1L160.9 56.1L175.7 56.1L190.5 56.1L205.2 56.1L220 56.1L220 52.9L220 49.4L205.2 49.4L190.5 49.4L175.7 49.4L160.9 49.4L146.2 49.4L131.4 49.4L116.6 49.4L101.9 49.4L87.1 49.4L72.3 49.4L57.6 49.4L42.8 49.4L28.1 49.4L13.3 49.4L0 49.4Z"/>
<path fill="#8BD000" fill-rule="evenodd" d="M0 335L13.3 335L28.1 335L42.8 335L57.6 335L72.3 335L87.1 335L101.9 335L116.6 335L131.4 335L146.2 335L160.9 335L175.7 335L190.5 335L205.2 335L220 335L220 317.4L220 299.7L220 282.1L220 264.5L220 261L205.2 261L190.5 261L175.7 261L160.9 261L146.2 261L131.4 261L116.6 261L101.9 261L87.1 261L72.3 261L57.6 261L42.8 261L28.1 261L13.3 261L0 261L0 264.5L0 282.1L0 299.7L0 317.4ZM0 229.2L0 236.9L13.3 236.9L28.1 236.9L42.8 236.9L57.6 236.9L72.3 236.9L87.1 236.9L101.9 236.9L116.6 236.9L131.4 236.9L146.2 236.9L160.9 236.9L175.7 236.9L190.5 236.9L205.2 236.9L220 236.9L220 229.2L220 211.6L220 193.9L220 185.4L205.2 185.4L190.5 185.4L175.7 185.4L160.9 185.4L146.2 185.4L131.4 185.4L116.6 185.4L101.9 185.4L87.1 185.4L72.3 185.4L57.6 185.4L42.8 185.4L28.1 185.4L13.3 185.4L0 185.4L0 193.9L0 211.6Z"/>
<path fill="#B6DB00" fill-rule="evenodd" d="M0 282.1L0 283.7L13.3 283.7L28.1 283.7L42.8 283.7L57.6 283.7L72.3 283.7L87.1 283.7L101.9 283.7L116.6 283.7L131.4 283.7L146.2 283.7L160.9 283.7L175.7 283.7L190.5 283.7L205.2 283.7L220 283.7L220 282.1L220 280.8L205.2 280.8L190.5 280.8L175.7 280.8L160.9 280.8L146.2 280.8L131.4 280.8L116.6 280.8L101.9 280.8L87.1 280.8L72.3 280.8L57.6 280.8L42.8 280.8L28.1 280.8L13.3 280.8L0 280.8ZM0 211.6L0 223.3L13.3 223.3L28.1 223.3L42.8 223.3L57.6 223.3L72.3 223.3L87.1 223.3L101.9 223.3L116.6 223.3L131.4 223.3L146.2 223.3L160.9 223.3L175.7 223.3L190.5 223.3L205.2 223.3L220 223.3L220 211.6L220 193.9L220 189.9L205.2 189.9L190.5 189.9L175.7 189.9L160.9 189.9L146.2 189.9L131.4 189.9L116.6 189.9L101.9 189.9L87.1 189.9L72.3 189.9L57.6 189.9L42.8 189.9L28.1 189.9L13.3 189.9L0 189.9L0 193.9Z"/>
<rect class="bx" x="0" y="0" width="220" height="335"/>
<path class="ax" d="M0 335v5.6M13.3 335v5.6M28.1 335v5.6M42.8 335v5.6M57.6 335v5.6M72.3 335v5.6M87.1 335v5.6M101.9 335v5.6M116.6 335v5.6M131.4 335v5.6M146.2 335v5.6M160.9 335v5.6M175.7 335v5.6M190.5 335v5.6M205.2 335v5.6M220 335v5.6M0 335h-5.6M0 317.4h-5.6M0 299.7h-5.6M0 282.1h-5.6M0 264.5h-5.6M0 246.8h-5.6M0 229.2h-5.6M0 211.6h-5.6M0 193.9h-5.6M0 176.3h-5.6M0 158.7h-5.6M0 141.1h-5.6M0 123.4h-5.6M0 105.8h-5.6M0 88.2h-5.6M0 70.5h-5.6M0 52.9h-5.6M0 35.3h-5.6M0 17.6h-5.6M0 0h-5.6"/>
<text class="tk" transform="translate(0,356.2) scale(0.925,1)" text-anchor="middle">100</text>
<text class="tk" transform="translate(28.1,356.2) scale(0.925,1)" text-anchor="middle">2000</text>
<text class="tk" transform="translate(72.3,356.2) scale(0.925,1)" text-anchor="middle">5000</text>
<text class="tk" transform="translate(116.6,356.2) scale(0.925,1)" text-anchor="middle">8000</text>
<text class="tk" transform="translate(160.9,356.2) scale(0.925,1)" text-anchor="middle">11000</text>
<text class="tk" transform="translate(205.2,356.2) scale(0.925,1)" text-anchor="middle">14000</text>
<text class="tk" transform="translate(-12,339) scale(0.875,1)" text-anchor="end">1</text>
<text class="tk" transform="translate(-12,321.4) scale(0.875,1)" text-anchor="end">2</text>
<text class="tk" transform="translate(-12,303.7) scale(0.875,1)" text-anchor="end">3</text>
<text class="tk" transform="translate(-12,286.1) scale(0.875,1)" text-anchor="end">4</text>
<text class="tk" transform="translate(-12,268.5) scale(0.875,1)" text-anchor="end">5</text>
<text class="tk" transform="translate(-12,250.8) scale(0.875,1)" text-anchor="end">6</text>
<text class="tk" transform="translate(-12,233.2) scale(0.875,1)" text-anchor="end">7</text>
<text class="tk" transform="translate(-12,215.6) scale(0.875,1)" text-anchor="end">8</text>
<text class="tk" transform="translate(-12,197.9) scale(0.875,1)" text-anchor="end">9</text>
<text class="tk" transform="translate(-12,180.3) scale(0.875,1)" text-anchor="end">10</text>
<text class="tk" transform="translate(-12,162.7) scale(0.875,1)" text-anchor="end">11</text>
<text class="tk" transform="translate(-12,145.1) scale(0.875,1)" text-anchor="end">12</text>
<text class="tk" transform="translate(-12,127.4) scale(0.875,1)" text-anchor="end">13</text>
<text class="tk" transform="translate(-12,109.8) scale(0.875,1)" text-anchor="end">14</text>
<text class="tk" transform="translate(-12,92.2) scale(0.875,1)" text-anchor="end">15</text>
<text class="tk" transform="translate(-12,74.5) scale(0.875,1)" text-anchor="end">16</text>
<text class="tk" transform="translate(-12,56.9) scale(0.875,1)" text-anchor="end">17</text>
<text class="tk" transform="translate(-12,39.3) scale(0.875,1)" text-anchor="end">18</text>
<text class="tk" transform="translate(-12,21.6) scale(0.875,1)" text-anchor="end">19</text>
<text class="tk" transform="translate(-12,4) scale(0.875,1)" text-anchor="end">20</text>
<text class="lb" transform="translate(104.9,373.5) scale(0.923,1)" text-anchor="middle">Dataset</text>
<text class="lb" transform="translate(-33.2,165.8) rotate(-90)" text-anchor="middle" style="font-size:11.7px">Pelt Penalty</text>
<text class="tt" transform="translate(110,-7) scale(0.935,1)" text-anchor="middle">Pelt Penalty Ankara</text>
<rect x="242.6" y="312.7" width="23.0" height="22.6" fill="#00A600"/>
<rect x="242.6" y="290.3" width="23.0" height="22.6" fill="#1DB000"/>
<rect x="242.6" y="268" width="23.0" height="22.6" fill="#3EBB00"/>
<rect x="242.6" y="245.7" width="23.0" height="22.6" fill="#63C600"/>
<rect x="242.6" y="223.3" width="23.0" height="22.6" fill="#8BD000"/>
<rect x="242.6" y="201" width="23.0" height="22.6" fill="#B6DB00"/>
<rect x="242.6" y="178.7" width="23.0" height="22.6" fill="#E6E600"/>
<rect x="242.6" y="156.3" width="23.0" height="22.6" fill="#E7CE1D"/>
<rect x="242.6" y="134" width="23.0" height="22.6" fill="#E9BD3A"/>
<rect x="242.6" y="111.7" width="23.0" height="22.6" fill="#EAB358"/>
<rect x="242.6" y="89.3" width="23.0" height="22.6" fill="#ECB176"/>
<rect x="242.6" y="67" width="23.0" height="22.6" fill="#EDB694"/>
<rect x="242.6" y="44.7" width="23.0" height="22.6" fill="#EFC2B3"/>
<rect x="242.6" y="22.3" width="23.0" height="22.6" fill="#F1D6D3"/>
<rect x="242.6" y="0" width="23.0" height="22.6" fill="#F2F2F2"/>
<path class="kd" d="M242.6 312.7h23.0M242.6 290.3h23.0M242.6 268h23.0M242.6 245.7h23.0M242.6 223.3h23.0M242.6 201h23.0M242.6 178.7h23.0M242.6 156.3h23.0M242.6 134h23.0M242.6 111.7h23.0M242.6 89.3h23.0M242.6 67h23.0M242.6 44.7h23.0M242.6 22.3h23.0"/>
<rect class="kb" x="242.6" y="0" width="23.0" height="335"/>
<text class="tk" transform="translate(277.8,339.3) scale(0.91,1)" text-anchor="start">1.0</text>
<text class="tk" transform="translate(277.8,294.6) scale(0.91,1)" text-anchor="start">1.1</text>
<text class="tk" transform="translate(277.8,250) scale(0.91,1)" text-anchor="start">1.2</text>
<text class="tk" transform="translate(277.8,205.3) scale(0.91,1)" text-anchor="start">1.3</text>
<text class="tk" transform="translate(277.8,160.6) scale(0.91,1)" text-anchor="start">1.4</text>
<text class="tk" transform="translate(277.8,116) scale(0.91,1)" text-anchor="start">1.5</text>
<text class="tk" transform="translate(277.8,71.3) scale(0.91,1)" text-anchor="start">1.6</text>
<text class="tk" transform="translate(277.8,26.6) scale(0.91,1)" text-anchor="start">1.7</text>
<path class="ax" d="M265.6 335h6.4M265.6 290.3h6.4M265.6 245.7h6.4M265.6 201h6.4M265.6 156.3h6.4M265.6 111.7h6.4M265.6 67h6.4M265.6 22.3h6.4"/>
<text class="tt" transform="translate(254.1,-7) scale(0.935,1)" text-anchor="middle">RRMSE</text>
</g>
<g transform="translate(415.9,434.3)">
<rect x="0" y="0" width="220" height="335" fill="#00A600"/>
<path fill="#1DB000" fill-rule="evenodd" d="M0 335L13.3 335L28.1 335L42.8 335L57.6 335L72.3 335L87.1 335L101.9 335L116.6 335L131.4 335L146.2 335L160.9 335L175.7 335L190.5 335L205.2 335L220 335L220 317.4L220 299.7L220 282.1L220 264.5L220 246.8L220 229.2L220 211.6L220 196.7L205.2 199L196.8 193.9L196.4 176.3L190.5 169.3L184.6 176.3L179.4 193.9L175.7 195.4L160.9 197.5L146.2 199.8L131.4 200.2L116.6 200.6L101.9 202L87.1 194.9L72.3 196.9L57.6 202.8L42.8 199.2L28.1 197.7L13.3 198.6L0 200.7L0 211.6L0 229.2L0 246.8L0 264.5L0 282.1L0 299.7L0 317.4Z"/>
<path fill="#3EBB00" fill-rule="evenodd" d="M0 335L13.3 335L28.1 335L42.8 335L57.6 335L72.3 335L87.1 335L101.9 335L116.6 335L131.4 335L146.2 335L160.9 335L175.7 335L190.5 335L205.2 335L220 335L220 317.4L220 299.7L220 282.1L220 264.5L220 246.8L220 229.2L220 211.6L220 203.4L205.2 205.3L190.5 197.5L175.7 202.8L160.9 206.3L146.2 209.6L131.4 210.5L116.6 211.6L116.6 211.6L116.6 211.6L101.9 210L87.1 204.2L72.3 204.2L60 211.6L57.6 213.3L52.7 211.6L42.8 208.1L28.1 201.5L13.3 204.5L0 207.5L0 211.6L0 229.2L0 246.8L0 264.5L0 282.1L0 299.7L0 317.4ZM72.3 255.7L69.7 246.8L72.3 239.8L74.5 246.8ZM131.4 255.7L128.9 246.8L131.4 243.6L133 246.8Z"/>
<path fill="#63C600" fill-rule="evenodd" d="M0 335L13.3 335L28.1 335L42.8 335L57.6 335L72.3 335L87.1 335L101.9 335L116.6 335L131.4 335L146.2 335L160.9 335L175.7 335L190.5 335L205.2 335L220 335L220 317.4L220 299.7L220 282.1L220 264.5L220 246.8L220 229.2L220 211.6L220 210.2L205.2 211.6L205.2 211.6L205.2 211.6L190.5 206.3L175.7 210.1L170.8 211.6L160.9 220.4L146.2 219.4L131.4 220.9L116.6 218.9L101.9 218L87.1 212.9L74.5 229.2L79.7 246.8L76.8 264.5L72.3 271.1L65 264.5L63 246.8L67.4 229.2L57.6 222.2L42.8 217.1L39 211.6L28.1 205.2L13.3 210.4L8.9 211.6L0 220.4L0 229.2L0 246.8L0 246.8L0 246.8L0 264.5L0 282.1L0 299.7L0 317.4ZM131.4 299.7L131.4 299.7L116.6 286.9L101.9 282.1L101.9 282.1L101.9 282.1L116.6 274.5L125.1 264.5L122.8 246.8L131.4 235.6L136.8 246.8L134.2 264.5L133.8 282.1L131.4 299.7Z"/>
<path fill="#63C600" d="M57.6 229.2L67.4 229.2L72.3 211.6L72.3 211.6L72.3 211.6L57.6 222.2ZM74.5 229.2L87.1 229.2L87.1 212.9L72.3 211.6L72.3 211.6L72.3 211.6Z"/>
<path fill="#8BD000" fill-rule="evenodd" d="M8 335L13.3 335L28.1 335L35.4 335L42.8 326.2L50.2 335L57.6 335L72.3 335L87.1 335L101.9 335L116.6 335L125.5 335L124 317.4L122.2 299.7L116.6 294.9L101.9 294.7L91.3 282.1L101.9 269.5L111.7 264.5L116.6 246.8L116.6 246.8L126.5 229.2L116.6 226.3L101.9 226L87.1 219.7L79.7 229.2L85 246.8L84.2 264.5L72.3 282.1L80.8 299.7L72.3 307.6L63.9 299.7L72.3 282.1L57.6 273.3L42.8 273.3L38.9 264.5L37.9 246.8L42.8 235.1L51.7 229.2L42.8 226.4L35.4 229.2L28.1 232.7L21.3 229.2L13.3 223.7L8.3 229.2L13.3 235.8L18.2 246.8L13.3 264.5L13.3 264.5L8 282.1L8 299.7L8 317.4ZM28.1 299.7L28.1 299.7L19.2 282.1L28.1 275.9L36.9 282.1L28.1 299.7ZM158 317.4L160.9 320.9L170.8 335L175.7 335L179.4 335L190.5 321.8L205.2 323.2L207.3 317.4L208.9 299.7L208.9 282.1L205.2 264.5L205.2 264.5L190.5 251.1L175.7 264.5L184.6 282.1L175.7 292.7L168.3 282.1L175.7 264.5L164.6 246.8L160.9 242.4L146.2 229.2L140.7 246.8L138.8 264.5L139.7 282.1L146.2 298.3L149.1 299.7ZM210.2 246.8L220 253.9L220 246.8L220 229.2L220 220.4L205.2 222.6L190.5 216L175.7 221.7L168.3 229.2L175.7 238L190.5 242.4L205.2 242.4ZM21.2 211.6L28.1 223.9L32.5 211.6L28.1 209Z"/>
<path fill="#8BD000" d="M36.9 282.1L42.8 282.1L42.8 273.3L38.9 264.5L28.1 264.5L28.1 275.9ZM205.2 264.5L205.2 264.5L220 253.9L220 246.8L210.2 246.8L205.2 264.5ZM18.2 246.8L28.1 246.8L28.1 232.7L21.3 229.2L13.3 229.2L13.3 235.8ZM28.1 246.8L37.9 246.8L42.8 235.1L42.8 229.2L35.4 229.2L28.1 232.7ZM160.9 246.8L164.6 246.8L175.7 238L175.7 229.2L168.3 229.2L160.9 242.4ZM13.3 229.2L21.3 229.2L28.1 223.9L28.1 211.6L21.2 211.6L13.3 223.7ZM35.4 229.2L42.8 229.2L42.8 226.4L32.5 211.6L28.1 211.6L28.1 223.9Z"/>
<path fill="#B6DB00" fill-rule="evenodd" d="M98.2 335L101.9 335L106.8 335L109.3 317.4L101.9 310.3L96 317.4ZM145.6 282.1L146.2 283.6L149.1 282.1L160.9 264.5L151.1 246.8L146.2 241.8L144.6 246.8L143.4 264.5ZM26.7 264.5L28.1 265.5L29 264.5L29.7 246.8L28.1 244.5L26.4 246.8ZM187.6 264.5L190.5 269.5L193.3 264.5L190.5 261.9ZM85 229.2L87.1 236.3L93 229.2L87.1 226.5ZM185.5 229.2L190.5 231.4L195.4 229.2L190.5 227Z"/>
<rect class="bx" x="0" y="0" width="220" height="335"/>
<path class="ax" d="M0 335v5.6M13.3 335v5.6M28.1 335v5.6M42.8 335v5.6M57.6 335v5.6M72.3 335v5.6M87.1 335v5.6M101.9 335v5.6M116.6 335v5.6M131.4 335v5.6M146.2 335v5.6M160.9 335v5.6M175.7 335v5.6M190.5 335v5.6M205.2 335v5.6M220 335v5.6M0 335h-5.6M0 317.4h-5.6M0 299.7h-5.6M0 282.1h-5.6M0 264.5h-5.6M0 246.8h-5.6M0 229.2h-5.6M0 211.6h-5.6M0 193.9h-5.6M0 176.3h-5.6M0 158.7h-5.6M0 141.1h-5.6M0 123.4h-5.6M0 105.8h-5.6M0 88.2h-5.6M0 70.5h-5.6M0 52.9h-5.6M0 35.3h-5.6M0 17.6h-5.6M0 0h-5.6"/>
<text class="tk" transform="translate(0,356.2) scale(0.925,1)" text-anchor="middle">100</text>
<text class="tk" transform="translate(28.1,356.2) scale(0.925,1)" text-anchor="middle">2000</text>
<text class="tk" transform="translate(72.3,356.2) scale(0.925,1)" text-anchor="middle">5000</text>
<text class="tk" transform="translate(116.6,356.2) scale(0.925,1)" text-anchor="middle">8000</text>
<text class="tk" transform="translate(160.9,356.2) scale(0.925,1)" text-anchor="middle">11000</text>
<text class="tk" transform="translate(205.2,356.2) scale(0.925,1)" text-anchor="middle">14000</text>
<text class="tk" transform="translate(-12,339) scale(0.875,1)" text-anchor="end">1</text>
<text class="tk" transform="translate(-12,321.4) scale(0.875,1)" text-anchor="end">2</text>
<text class="tk" transform="translate(-12,303.7) scale(0.875,1)" text-anchor="end">3</text>
<text class="tk" transform="translate(-12,286.1) scale(0.875,1)" text-anchor="end">4</text>
<text class="tk" transform="translate(-12,268.5) scale(0.875,1)" text-anchor="end">5</text>
<text class="tk" transform="translate(-12,250.8) scale(0.875,1)" text-anchor="end">6</text>
<text class="tk" transform="translate(-12,233.2) scale(0.875,1)" text-anchor="end">7</text>
<text class="tk" transform="translate(-12,215.6) scale(0.875,1)" text-anchor="end">8</text>
<text class="tk" transform="translate(-12,197.9) scale(0.875,1)" text-anchor="end">9</text>
<text class="tk" transform="translate(-12,180.3) scale(0.875,1)" text-anchor="end">10</text>
<text class="tk" transform="translate(-12,162.7) scale(0.875,1)" text-anchor="end">11</text>
<text class="tk" transform="translate(-12,145.1) scale(0.875,1)" text-anchor="end">12</text>
<text class="tk" transform="translate(-12,127.4) scale(0.875,1)" text-anchor="end">13</text>
<text class="tk" transform="translate(-12,109.8) scale(0.875,1)" text-anchor="end">14</text>
<text class="tk" transform="translate(-12,92.2) scale(0.875,1)" text-anchor="end">15</text>
<text class="tk" transform="translate(-12,74.5) scale(0.875,1)" text-anchor="end">16</text>
<text class="tk" transform="translate(-12,56.9) scale(0.875,1)" text-anchor="end">17</text>
<text class="tk" transform="translate(-12,39.3) scale(0.875,1)" text-anchor="end">18</text>
<text class="tk" transform="translate(-12,21.6) scale(0.875,1)" text-anchor="end">19</text>
<text class="tk" transform="translate(-12,4) scale(0.875,1)" text-anchor="end">20</text>
<text class="lb" transform="translate(102.8,373.5) scale(0.923,1)" text-anchor="middle">Dataset</text>
<text class="lb" transform="translate(-31.5,167.2) rotate(-90)" text-anchor="middle" style="font-size:11.7px">Pelt Penalty</text>
<text class="tt" transform="translate(110,-7) scale(0.935,1)" text-anchor="middle">Pelt Penalty Ozone</text>
<rect x="242.6" y="312.7" width="23.0" height="22.6" fill="#00A600"/>
<rect x="242.6" y="290.3" width="23.0" height="22.6" fill="#1DB000"/>
<rect x="242.6" y="268" width="23.0" height="22.6" fill="#3EBB00"/>
<rect x="242.6" y="245.7" width="23.0" height="22.6" fill="#63C600"/>
<rect x="242.6" y="223.3" width="23.0" height="22.6" fill="#8BD000"/>
<rect x="242.6" y="201" width="23.0" height="22.6" fill="#B6DB00"/>
<rect x="242.6" y="178.7" width="23.0" height="22.6" fill="#E6E600"/>
<rect x="242.6" y="156.3" width="23.0" height="22.6" fill="#E7CE1D"/>
<rect x="242.6" y="134" width="23.0" height="22.6" fill="#E9BD3A"/>
<rect x="242.6" y="111.7" width="23.0" height="22.6" fill="#EAB358"/>
<rect x="242.6" y="89.3" width="23.0" height="22.6" fill="#ECB176"/>
<rect x="242.6" y="67" width="23.0" height="22.6" fill="#EDB694"/>
<rect x="242.6" y="44.7" width="23.0" height="22.6" fill="#EFC2B3"/>
<rect x="242.6" y="22.3" width="23.0" height="22.6" fill="#F1D6D3"/>
<rect x="242.6" y="0" width="23.0" height="22.6" fill="#F2F2F2"/>
<path class="kd" d="M242.6 312.7h23.0M242.6 290.3h23.0M242.6 268h23.0M242.6 245.7h23.0M242.6 223.3h23.0M242.6 201h23.0M242.6 178.7h23.0M242.6 156.3h23.0M242.6 134h23.0M242.6 111.7h23.0M242.6 89.3h23.0M242.6 67h23.0M242.6 44.7h23.0M242.6 22.3h23.0"/>
<rect class="kb" x="242.6" y="0" width="23.0" height="335"/>
<text class="tk" transform="translate(277.8,339.3) scale(0.91,1)" text-anchor="start">1.0</text>
<text class="tk" transform="translate(277.8,294.6) scale(0.91,1)" text-anchor="start">1.1</text>
<text class="tk" transform="translate(277.8,250) scale(0.91,1)" text-anchor="start">1.2</text>
<text class="tk" transform="translate(277.8,205.3) scale(0.91,1)" text-anchor="start">1.3</text>
<text class="tk" transform="translate(277.8,160.6) scale(0.91,1)" text-anchor="start">1.4</text>
<text class="tk" transform="translate(277.8,116) scale(0.91,1)" text-anchor="start">1.5</text>
<text class="tk" transform="translate(277.8,71.3) scale(0.91,1)" text-anchor="start">1.6</text>
<text class="tk" transform="translate(277.8,26.6) scale(0.91,1)" text-anchor="start">1.7</text>
<path class="ax" d="M265.6 335h6.4M265.6 290.3h6.4M265.6 245.7h6.4M265.6 201h6.4M265.6 156.3h6.4M265.6 111.7h6.4M265.6 67h6.4M265.6 22.3h6.4"/>
<text class="tt" transform="translate(254.1,-7) scale(0.935,1)" text-anchor="middle">RRMSE</text>
</g>
</svg>
</body></html>
